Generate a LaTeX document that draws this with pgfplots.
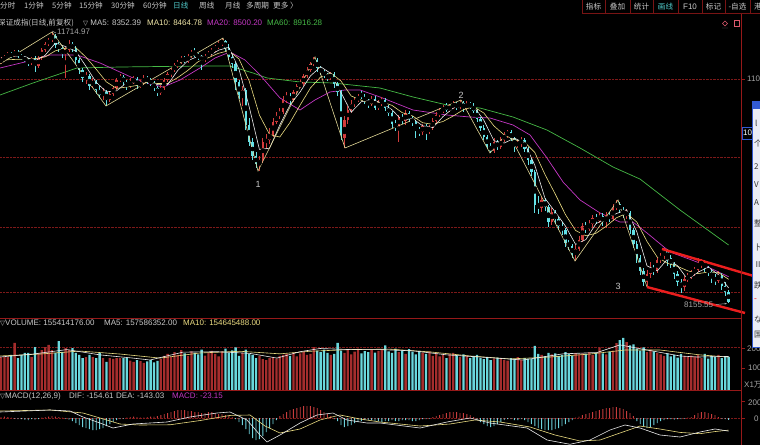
\documentclass[border=0pt]{standalone}
\usepackage{pgfplots}
\pgfplotsset{compat=1.18}
\usepackage{pgfplotstable}
\usetikzlibrary{arrows.meta}
\usepackage{fontspec}
\setmainfont{Liberation Sans}
\newfontfamily\cjk{Noto Sans CJK SC}
\newfontfamily\dv{DejaVu Sans}
\definecolor{upc}{RGB}{210,60,60}
\definecolor{dnc}{RGB}{100,225,230}
\definecolor{vup}{RGB}{165,45,45}
\definecolor{vdn}{RGB}{105,215,220}
\definecolor{mup}{RGB}{200,60,60}
\definecolor{mdn}{RGB}{110,210,220}
\definecolor{ma5c}{RGB}{235,235,235}
\definecolor{ma10c}{RGB}{235,220,130}
\definecolor{ma20c}{RGB}{195,55,195}
\definecolor{ma60c}{RGB}{70,185,70}
\definecolor{zzc}{RGB}{225,215,150}
\definecolor{framec}{RGB}{150,25,25}
\definecolor{gridc}{RGB}{125,25,25}
\definecolor{txt}{RGB}{200,200,200}
\definecolor{dimtxt}{RGB}{165,165,165}
\definecolor{cyantxt}{RGB}{80,200,200}
\definecolor{chred}{RGB}{235,30,30}
\definecolor{popbg}{RGB}{236,237,245}
\definecolor{popbd}{RGB}{50,90,210}
\definecolor{iconc}{RGB}{220,90,110}

\pgfplotstableread{
i o h l c v m
0 11321 11387 11295 11347 155 11.8
1 11347 11413 11334 11387 155 17.7
2 11387 11452 11373 11413 155 11.8
3 11426 11452 11373 11400 165 5.9
4 11400 11479 11387 11452 221 -5.9
5 11452 11479 11373 11400 150 -11.8
6 11400 11426 11347 11373 165 -11.8
7 11373 11400 11321 11347 174 -17.7
8 11347 11373 11268 11308 174 -23.6
9 11308 11387 11281 11373 155 -11.8
10 11373 11400 11189 11268 202 -17.7
11 11268 11400 11242 11373 174 -11.8
12 11373 11505 11347 11479 188 5.9
13 11479 11584 11452 11557 202 11.8
14 11557 11636 11531 11610 212 17.7
15 11610 11714.97 11584 11662 188 23.6
16 11662 11689 11505 11544 174 17.7
17 11544 11584 11452 11505 230 11.8
18 11505 11531 11373 11426 179 5.9
19 11426 11518 11111 11479 197 -5.9
20 11479 11610 11452 11557 188 -17.7
21 11557 11584 11452 11505 197 -35.4
22 11505 11531 11295 11347 174 -59
23 11347 11373 11163 11216 165 -82.6
24 11216 11242 11058 11111 150 -106.2
25 11111 11189 11032 11137 155 -118
26 11137 11163 10953 11005 165 -129.8
27 11005 11111 10979 11058 155 -141.6
28 11058 11084 10900 10953 150 -141.6
29 10953 11005 10848 10887 174 -129.8
30 10887 10979 10822 10927 150 -118
31 10927 10953 10743 10822 132 -94.4
32 10822 10927 10795 10900 150 -70.8
33 10900 11005 10874 10979 146 -47.2
34 10979 11111 10953 11084 150 -23.6
35 11084 11163 11058 11124 150 -11.8
36 11124 11150 11019 11058 150 -5.9
37 11058 11084 10953 11005 150 5.9
38 11005 11111 10979 11058 138 11.8
39 11058 11137 11032 11097 132 17.7
40 11097 11124 10966 11005 141 11.8
41 11005 11084 10979 11045 136 5.9
42 11045 11150 11019 11111 128 5.9
43 11111 11137 11032 11071 135 11.8
44 11071 11111 11005 11045 141 17.7
45 11045 11071 10940 10979 130 17.7
46 10979 11005 10874 10913 137 23.6
47 10913 11019 10887 10979 145 35.4
48 10979 11111 10953 11084 160 47.2
49 11084 11189 11058 11163 170 59
50 11163 11242 11124 11216 155 70.8
51 11216 11308 11189 11268 178 82.6
52 11268 11347 11242 11321 165 94.4
53 11321 11400 11295 11373 188 94.4
54 11373 11400 11308 11334 172 94.4
55 11334 11426 11308 11400 160 82.6
56 11400 11479 11373 11452 182 82.6
57 11452 11505 11387 11413 175 70.8
58 11413 11439 11347 11387 168 70.8
59 11387 11413 11216 11347 190 59
60 11347 11426 11321 11400 162 59
61 11400 11465 11373 11426 176 70.8
62 11426 11505 11400 11479 184 70.8
63 11479 11544 11452 11518 170 59
64 11518 11597 11492 11557 158 47.2
65 11557 11636 11531 11597 181 47.2
66 11597 11610 11465 11505 195 35.4
67 11505 11557 11347 11387 173 23.6
68 11387 11426 11242 11295 186 11.8
69 11295 11321 10953 11058 200 -11.8
70 11058 11084 10835 10887 160 -47.2
71 10887 11005 10743 10953 175 -82.6
72 10953 10979 10427 10493 190 -129.8
73 10493 10585 10217 10270 170 -188.8
74 10270 10322 10033 10086 165 -236
75 10086 10138 9928 9981 150 -259.6
76 9981 10086 9889 10033 160 -247.8
77 10033 10322 9994 10270 145 -212.4
78 10270 10375 10191 10296 140 -165.2
79 10296 10454 10243 10362 150 -118
80 10362 10585 10335 10532 155 -70.8
81 10532 10664 10506 10611 148 -23.6
82 10611 10716 10572 10664 160 23.6
83 10664 10874 10638 10822 165 47.2
84 10822 10927 10782 10861 170 70.8
85 10861 10913 10769 10822 160 94.4
86 10822 10953 10795 10927 175 106.2
87 10927 11032 10900 11005 158 118
88 11005 11084 10979 11032 172 129.8
89 11032 11163 11005 11137 180 141.6
90 11137 11255 11111 11216 165 141.6
91 11216 11321 11189 11295 170 141.6
92 11295 11387 11268 11347 202 129.8
93 11347 11373 11189 11242 185 118
94 11242 11268 11150 11189 178 94.4
95 11189 11216 11111 11150 190 70.8
96 11150 11176 11071 11111 175 47.2
97 11111 11189 11084 11163 165 23.6
98 11163 11189 10979 11032 170 -11.8
99 11032 11058 10874 10927 221 -35.4
100 10927 10953 10296 10362 185 -82.6
101 10322 10611 10191 10559 175 -106.2
102 10559 10743 10506 10690 190 -94.4
103 10690 10822 10651 10769 168 -82.6
104 10769 10861 10730 10822 180 -59
105 10822 10900 10795 10861 195 -47.2
106 10913 10940 10835 10861 172 -35.4
107 10861 10900 10769 10808 183 -23.6
108 10808 10835 10716 10769 178 -23.6
109 10769 10874 10743 10835 188 -23.6
110 10835 10874 10690 10716 176 -35.4
111 10716 10822 10690 10769 184 -35.4
112 10769 10861 10743 10822 190 -47.2
113 10822 10848 10677 10716 210 -35.4
114 10716 10756 10611 10651 182 -35.4
115 10651 10677 10454 10506 175 -23.6
116 10506 10559 10414 10467 195 -35.4
117 10467 10624 10270 10598 178 -35.4
118 10598 10638 10506 10546 186 -23.6
119 10546 10690 10493 10651 170 -23.6
120 10651 10677 10532 10572 192 -23.6
121 10572 10611 10480 10532 180 -35.4
122 10532 10559 10322 10427 168 -35.4
123 10427 10467 10348 10401 184 -23.6
124 10401 10506 10362 10480 176 -11.8
125 10480 10506 10296 10414 170 -11.8
126 10414 10493 10375 10454 182 -5.9
127 10454 10585 10427 10546 160 11.8
128 10546 10664 10506 10624 172 23.6
129 10624 10716 10598 10677 158 35.4
130 10677 10756 10651 10716 166 47.2
131 10756 10782 10664 10690 150 59
132 10690 10769 10664 10730 170 70.8
133 10730 10808 10703 10769 175 70.8
134 10769 10795 10690 10730 162 70.8
135 10730 10822 10703 10782 155 59
136 10782 10808 10664 10716 168 59
137 10716 10808 10690 10769 160 47.2
138 10769 10795 10703 10743 150 35.4
139 10743 10782 10651 10677 158 11.8
140 10677 10703 10532 10572 165 -23.6
141 10572 10598 10414 10454 150 -47.2
142 10454 10493 10296 10335 145 -70.8
143 10335 10362 10178 10217 155 -94.4
144 10217 10256 10125 10151 140 -106.2
145 10151 10322 10125 10270 148 -94.4
146 10270 10296 10164 10204 152 -70.8
147 10204 10335 10178 10296 145 -47.2
148 10296 10401 10270 10362 142 -23.6
149 10362 10427 10322 10401 138 -11.8
150 10401 10427 10283 10309 150 -11.8
151 10309 10335 10138 10230 145 -23.6
152 10230 10296 10191 10256 155 -23.6
153 10256 10335 10204 10296 140 -11.8
154 10296 10322 10138 10178 150 -23.6
155 10178 10204 9967 10033 148 -47.2
156 10033 10059 9823 9875 145 -70.8
157 9875 9902 9337 9441 207 -94.4
158 9441 9560 9323 9402 170 -118
159 9402 9547 9350 9508 165 -129.8
160 9508 9534 9363 9415 158 -141.6
161 9415 9441 9153 9218 175 -141.6
162 9218 9402 9179 9350 168 -141.6
163 9350 9376 9192 9258 172 -129.8
164 9258 9284 9113 9166 160 -118
165 9166 9218 9048 9113 165 -94.4
166 9113 9140 8890 8943 178 -70.8
167 8943 8982 8851 8903 170 -47.2
168 8903 8929 8745 8798 162 -23.6
169 8798 8916 8706 8864 175 5.9
170 8864 9034 8837 8982 168 17.7
171 8982 9205 8956 9166 172 35.4
172 9166 9218 9074 9126 170 47.2
173 9126 9245 9100 9192 178 59
174 9192 9310 9140 9271 165 70.8
175 9271 9323 9192 9231 175 82.6
176 9231 9350 9205 9297 200 94.4
177 9297 9337 9166 9218 172 106.2
178 9218 9350 9140 9310 168 118
179 9310 9350 9218 9258 180 118
180 9258 9455 9231 9402 185 129.8
181 9402 9508 9376 9455 220 129.8
182 9455 9481 9337 9376 235 118
183 9376 9415 9271 9323 245 106.2
184 9323 9389 9258 9337 225 82.6
185 9337 9363 9061 9113 210 59
186 9113 9140 8877 8929 215 23.6
187 8929 8969 8680 8745 195 -35.4
188 8745 8785 8522 8574 185 -70.8
189 8574 8614 8377 8430 200 -94.4
190 8430 8588 8364 8535 178 -118
191 8535 8693 8483 8614 190 -106.2
192 8614 8653 8522 8574 182 -82.6
193 8574 8758 8548 8719 175 -59
194 8719 8811 8680 8772 168 -35.4
195 8772 8877 8732 8837 160 -23.6
196 8837 8864 8640 8745 172 -11.8
197 8745 8785 8614 8667 158 -11.8
198 8667 8693 8469 8535 165 -17.7
199 8535 8574 8377 8430 152 -11.8
200 8430 8469 8286 8364 170 -11.8
201 8364 8509 8312 8469 160 -5.9
202 8469 8548 8430 8509 155 5.9
203 8509 8588 8469 8561 162 11.8
204 8561 8627 8509 8588 158 35.4
205 8588 8745 8561 8667 165 59
206 8667 8732 8614 8693 150 70.8
207 8693 8719 8561 8614 170 70.8
208 8614 8640 8509 8561 148 59
209 8561 8588 8417 8496 160 47.2
210 8496 8535 8391 8443 155 35.4
211 8443 8574 8417 8522 165 11.8
212 8522 8548 8325 8377 150 -5.9
213 8377 8430 8246 8299 158 -11.8
214 8299 8325 8155.55 8167 155.4 -23.15
}\candles

\pgfplotstableread{
i p
0 11373
4 11400
7 11394
10 11334
13 11410
16 11570
19 11523
22 11463
25 11263
28 11053
31 10929
34 10942
37 11050
40 11045
43 11066
46 11024
49 11024
52 11210
55 11339
58 11397
61 11394
64 11476
67 11513
70 11226
73 10732
76 10172
79 10188
82 10493
85 10756
88 10929
91 11137
94 11258
97 11171
100 10919
103 10661
106 10800
109 10827
112 10782
115 10693
118 10553
121 10580
124 10483
127 10459
130 10603
133 10716
136 10745
139 10737
142 10556
145 10285
148 10256
151 10320
154 10254
157 9965
160 9529
163 9350
166 9166
169 8924
172 8987
175 9197
178 9266
181 9329
184 9379
187 9090
190 8643
193 8575
196 8730
199 8643
202 8462
205 8559
208 8625
211 8527
214 8352
}\maFive

\pgfplotstableread{
i p
0 11347
10 11365
13 11388
16 11468
19 11501
22 11510
25 11384
28 11226
31 11059
34 10974
37 10992
40 11012
43 11058
46 11038
49 11038
52 11117
55 11212
58 11326
61 11377
64 11436
67 11469
70 11360
73 11071
76 10624
79 10367
82 10335
85 10526
88 10756
91 10979
94 11124
97 11176
100 11071
103 10874
106 10818
109 10769
112 10795
115 10751
118 10655
121 10613
124 10523
127 10502
130 10539
133 10611
136 10694
139 10733
142 10651
145 10480
148 10362
151 10299
154 10266
157 10132
160 9842
163 9586
166 9317
169 9107
172 9037
175 9070
178 9163
181 9274
184 9331
187 9218
190 8963
193 8758
196 8676
199 8635
202 8577
205 8540
208 8561
211 8555
214 8465
}\maTen

\pgfplotsset{
  panel/.style={scale only axis, anchor=south west, xmin=0, xmax=741,
     axis line style={draw=none}, xtick=\empty, yticklabels={}, major tick length=0pt,
     ymajorgrids, grid style={gridc, densely dotted, line width=0.6pt}, clip=false},
  wick/.style={only marks, mark=none, forget plot, error bars/y dir=both, error bars/y explicit,
     error bars/error mark=none, error bars/error bar style={line width=0.7pt, draw=#1}},
  body/.style={only marks, mark=none, forget plot, error bars/y dir=both, error bars/y explicit,
     error bars/error mark=none, error bars/error bar style={line width=2.3pt, draw=#1}},
}

\begin{document}
\begin{tikzpicture}
\useasboundingbox (0,0) rectangle (760pt,445pt);
\fill[black] (0,0) rectangle (760pt,445pt);

% ---------------- price panel ----------------
\begin{axis}[panel, at={(0pt,127pt)}, width=741pt, height=291pt,
  ymin=7957, ymax=11780.7, ytick={8299,9153,10072,11097}]
\addplot[ma60c, line width=0.7pt, mark=none] coordinates {(0,10887) (33,11045) (77,11242) (120,11255) (200,11268) (230,11268) (253,11176) (267,11111) (300,11058) (333,11045) (380,10979) (413,10861) (447,10756) (480,10716) (513,10598) (547,10427) (580,10191) (613,9941) (640,9783) (680,9376) (728.6,8916)};
\addplot[ma20c, line width=0.7pt, mark=none] coordinates {(0,11242) (25,11321) (50,11413) (77,11413) (100,11308) (120,11189) (133,11111) (150,11032) (163,10992) (180,11084) (200,11242) (215,11373) (230,11452) (245,11347) (260,11150) (280,10848) (300,10690) (315,10822) (330,10927) (345,10953) (360,10953) (380,10861) (413,10690) (447,10624) (470,10598) (490,10585) (513,10493) (530,10362) (547,10059) (563,9744) (580,9508) (600,9337) (620,9218) (633,9218) (647,9074) (670,8824) (697,8693) (728.6,8500)};
% up candles (close >= open): down candles are pushed out of the domain and dropped
\addplot[wick=upc, restrict y to domain=0:20000] table[x expr=1+3.4*\thisrow{i}, y expr=(\thisrow{h}+\thisrow{l})/2+100000*(\thisrow{c}<\thisrow{o}), y error expr=(\thisrow{h}-\thisrow{l})/2]{\candles};
\addplot[body=upc, restrict y to domain=0:20000] table[x expr=1+3.4*\thisrow{i}, y expr=(\thisrow{o}+\thisrow{c})/2+100000*(\thisrow{c}<\thisrow{o}), y error expr={max(abs(\thisrow{c}-\thisrow{o})/2,7)}]{\candles};
% down candles
\addplot[wick=dnc, restrict y to domain=0:20000] table[x expr=1+3.4*\thisrow{i}, y expr=(\thisrow{h}+\thisrow{l})/2+100000*(1-(\thisrow{c}<\thisrow{o})), y error expr=(\thisrow{h}-\thisrow{l})/2]{\candles};
\addplot[body=dnc, restrict y to domain=0:20000] table[x expr=1+3.4*\thisrow{i}, y expr=(\thisrow{o}+\thisrow{c})/2+100000*(1-(\thisrow{c}<\thisrow{o})), y error expr={max(abs(\thisrow{c}-\thisrow{o})/2,7)}]{\candles};
\addplot[ma10c, line width=0.6pt, mark=none] table[x expr=1+3.4*\thisrow{i}, y=p]{\maTen};
\addplot[ma5c, line width=0.6pt, mark=none] table[x expr=1+3.4*\thisrow{i}, y=p]{\maFive};
\addplot[zzc, line width=0.6pt, mark=none] coordinates {(0,11295) (52,11715) (106,10743) (223,11636) (258,9889) (315,11387) (345,10191) (461,10822) (490,10125) (508,10401) (575,8706) (618,9508) (647,8364)};
\addplot[chred, line width=2.4pt, mark=none] coordinates {(662,8864) (757,8496)};
\addplot[chred, line width=2.4pt, mark=none] coordinates {(647,8364) (745,8023)};
\end{axis}

% ---------------- volume panel ----------------
\begin{axis}[panel, at={(0pt,55pt)}, width=741pt, height=72pt,
  ymin=0, ymax=338.4, ytick={200}]
\addplot[ybar, bar width=2.3, bar shift=0pt, fill=vup, draw=none, restrict y to domain=0:5000] table[x expr=1+3.4*\thisrow{i}, y expr=\thisrow{v}+100000*(\thisrow{c}<\thisrow{o})]{\candles};
\addplot[ybar, bar width=2.3, bar shift=0pt, fill=vdn, draw=none, restrict y to domain=0:5000] table[x expr=1+3.4*\thisrow{i}, y expr=\thisrow{v}+100000*(1-(\thisrow{c}<\thisrow{o}))]{\candles};
\addplot[ma10c, line width=0.6pt, mark=none] coordinates {(0,160) (40,169) (80,183) (120,169) (160,150) (200,174) (240,182) (280,170) (310,182) (350,190) (390,192) (430,179) (470,160) (510,146) (550,155) (590,169) (625,188) (660,188) (700,165) (728.6,154.65)};
\addplot[ma5c, line width=0.6pt, mark=none] coordinates {(0,155) (33,169) (67,190) (100,165) (133,150) (150,141) (183,178) (217,180) (250,172) (277,150) (300,180) (320,195) (350,190) (380,190) (413,184) (447,165) (480,155) (523,141) (563,170) (597,176) (620,212) (647,188) (680,160) (697,155) (728.6,157.59)};
\end{axis}

% ---------------- MACD panel ----------------
\begin{axis}[panel, at={(0pt,0pt)}, width=741pt, height=55pt,
  ymin=-318.6, ymax=330.4, ytick={0}]
\addplot[ybar, bar width=0.9, bar shift=0pt, fill=mup, draw=none, restrict y to domain=-5000:5000] table[x expr=1+3.4*\thisrow{i}, y expr=\thisrow{m}+100000*(\thisrow{m}<0)]{\candles};
\addplot[ybar, bar width=0.9, bar shift=0pt, fill=mdn, draw=none, restrict y to domain=-5000:5000] table[x expr=1+3.4*\thisrow{i}, y expr=\thisrow{m}+100000*(1-(\thisrow{m}<0))]{\candles};
\addplot[ma10c, line width=0.6pt, mark=none] coordinates {(0,82.6) (50,94.4) (83,59) (100,0) (120,-70.8) (140,-82.6) (170,-80) (200,-30) (230,30) (250,35.4) (265,-94.4) (280,-177) (300,-129.8) (320,-23.6) (340,35.4) (360,-11.8) (380,-47.2) (420,-94.4) (450,-70.8) (475,-23.6) (500,-47.2) (530,-106.2) (555,-200.6) (580,-271.4) (600,-259.6) (620,-177) (640,-95) (660,-130) (680,-170) (700,-185) (715,-160) (728.6,-143.03)};
\addplot[ma5c, line width=0.6pt, mark=none] coordinates {(0,70.8) (50,94.4) (70,82.6) (83,11.8) (100,-59) (113,-118) (133,-70.8) (167,-47.2) (190,11.8) (217,59) (230,70.8) (247,-23.6) (260,-200.6) (267,-283.2) (280,-200.6) (300,-59) (317,35.4) (333,59) (347,-23.6) (367,-59) (380,-59) (420,-118) (447,-47.2) (470,0) (490,-59) (527,-118) (547,-259.6) (570,-310) (590,-259.6) (610,-141.6) (625,-82.6) (640,-118) (660,-200.6) (680,-224.2) (700,-165.2) (715,-129.8) (728.6,-154.61)};
\end{axis}

% ---------------- frame lines ----------------
\draw[framec, line width=0.9pt] (0,127pt) -- (741pt,127pt);
\draw[framec, line width=0.9pt] (0,55pt) -- (741pt,55pt);
\draw[framec, line width=0.9pt] (741.5pt,432pt) -- (741.5pt,0pt);
\foreach \yy in {366,97,77,44,27} {\draw[framec, line width=0.8pt] (741pt,\yy pt) -- (745pt,\yy pt);}

% top buttons
\draw[framec!80!black, line width=0.8pt] (582pt,432pt) -- (760pt,432pt);
\foreach \xx in {582,605,630,653,678,702,725,750} {\draw[framec!80!black, line width=0.8pt] (\xx pt,445pt) -- (\xx pt,432pt);}

\tikzset{
  hc/.style={anchor=west, inner sep=0pt, text=txt, font=\cjk\fontsize{7.6}{9}\selectfont},
  hl/.style={anchor=west, inner sep=0pt, text=txt, font=\fontsize{8}{9}\selectfont},
  bc/.style={anchor=center, inner sep=0pt, text=txt, font=\cjk\fontsize{7.6}{9}\selectfont},
  pc/.style={anchor=west, inner sep=0pt, text=black!80, font=\cjk\fontsize{8}{9}\selectfont},
}
% menu row
\node[hc] at (0pt,439pt) {分时};
\node[hc] at (24pt,439pt) {1分钟};
\node[hc] at (52pt,439pt) {5分钟};
\node[hc] at (79pt,439pt) {15分钟};
\node[hc] at (111pt,439pt) {30分钟};
\node[hc] at (143pt,439pt) {60分钟};
\node[hc, text=cyantxt] at (173pt,439pt) {日线};
\node[hc] at (199pt,439pt) {周线};
\node[hc] at (225pt,439pt) {月线};
\node[hc] at (246pt,439pt) {多周期};
\node[hc] at (273pt,439pt) {更多 〉};
\node[bc] at (593.5pt,438.5pt) {指标};
\node[bc] at (617.5pt,438.5pt) {叠加};
\node[bc] at (641.5pt,438.5pt) {统计};
\node[bc, text=cyantxt] at (665.5pt,438.5pt) {画线};
\node[bc, font=\fontsize{8}{9}\selectfont] at (690pt,438.5pt) {F10};
\node[bc] at (713.5pt,438.5pt) {标记};
\node[bc] at (737.5pt,438.5pt) {-自选};
\node[hc] at (754pt,438.5pt) {港股};
% small icons
\draw[iconc, line width=0.6pt] (725pt,424pt) -- (727.5pt,421.5pt) -- (725pt,419pt) -- (722.5pt,421.5pt) -- cycle;
\draw[iconc, line width=0.6pt] (734pt,424.5pt) rectangle (739pt,418.5pt);
\fill[dimtxt] (723pt,417pt) circle (0.4pt) (725pt,417pt) circle (0.4pt) (727pt,417pt) circle (0.4pt);

% info row
\node[hc] at (-2pt,422pt) {深证成指(日线,前复权)};
\node[hl] at (83pt,422pt) {{\dv\fontsize{6.5}{8}\selectfont ▽} MA5: 8352.39};
\node[hl, text=ma10c!70!white] at (147pt,422pt) {MA10: 8464.78};
\node[hl, text=ma20c] at (207pt,422pt) {MA20: 8500.20};
\node[hl, text=ma60c] at (267pt,422pt) {MA60: 8916.28};

% volume header
\node[hl] at (0pt,122pt) {{\dv\fontsize{6.5}{8}\selectfont ▽}VOLUME: 155414176.00};
\node[hl] at (104pt,122pt) {MA5: 157586352.00};
\node[hl, text=ma10c] at (183pt,122pt) {MA10: 154645488.00};

% macd header
\node[hl] at (0pt,49pt) {{\dv\fontsize{6.5}{8}\selectfont ▽}MACD(12,26,9)};
\node[hl] at (69pt,49pt) {DIF: -154.61};
\node[hl] at (116pt,49pt) {DEA: -143.03};
\node[hl, text=ma20c] at (172pt,49pt) {MACD: -23.15};

% annotations
\node[hl, text=dimtxt] at (57pt,413pt) {11714.97};
\draw[dimtxt, line width=0.5pt] (52pt,414pt) -- (56pt,412pt);
\node[hl, text=dimtxt] at (684pt,140pt) {8155.55};
\draw[dimtxt, line width=0.5pt, -{Stealth[length=2.5pt]}] (716pt,140.5pt) -- (727pt,141.5pt);
\node[anchor=center, inner sep=0pt, text=txt, font=\fontsize{9}{10}\selectfont] at (258pt,261pt) {1};
\node[anchor=center, inner sep=0pt, text=txt, font=\fontsize{9}{10}\selectfont] at (461pt,350pt) {2};
\node[anchor=center, inner sep=0pt, text=txt, font=\fontsize{9}{10}\selectfont] at (618pt,159pt) {3};

% right scale labels
\node[hl, text=dimtxt] at (747pt,366pt) {11097};
\draw[popbd, fill=black, line width=0.8pt] (742pt,318pt) rectangle (753pt,306pt);
\node[hl, text=white] at (743pt,312pt) {10808};
\node[hl, text=dimtxt] at (747pt,96pt) {20000};
\node[hl, text=dimtxt] at (748pt,77pt) {10000};
\node[hl, text=dimtxt] at (744pt,60pt) {X1{\cjk 万}};
\node[hl, text=dimtxt] at (748pt,42pt) {200};
\node[hl, text=dimtxt] at (754pt,26pt) {0};

% popup panel at right edge
\draw[fill=popbg, draw=popbd, line width=1.2pt] (752.5pt,343pt) rectangle (766pt,97.5pt);
\fill[popbd] (752.5pt,343pt) rectangle (766pt,336pt);
\begin{scope}
\clip (753.5pt,335pt) rectangle (760pt,98pt);
\node[pc] at (755pt,322pt) {l};
\node[pc] at (754pt,302pt) {个股};
\node[pc] at (754pt,278pt) {2};
\node[pc] at (754pt,260pt) {V};
\node[pc] at (754pt,242pt) {A};
\node[pc] at (754pt,222pt) {整};
\node[pc] at (754pt,198pt) {卜};
\node[pc] at (754pt,180pt) {Ⅱ};
\node[pc] at (754pt,160pt) {跌};
\node[pc, text=red] at (754pt,145pt) {-};
\node[pc] at (754pt,126pt) {な};
\node[pc] at (754pt,110pt) {国};
\end{scope}
\end{tikzpicture}
\end{document}
